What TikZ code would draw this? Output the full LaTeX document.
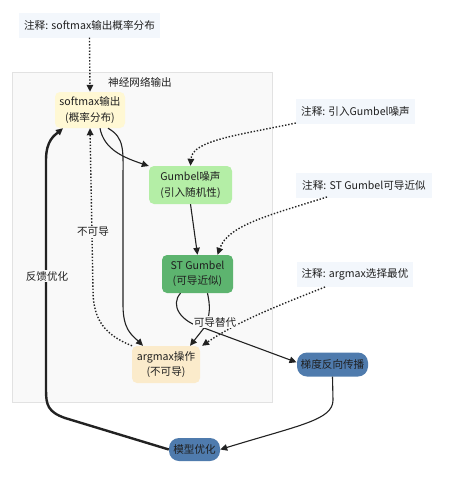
\documentclass[tikz,border=0pt]{standalone}
\usepackage{fontspec}
\setmainfont{Noto Sans CJK SC}
\usetikzlibrary{arrows.meta}
\definecolor{notefill}{HTML}{F3F7FC}
\definecolor{clusterfill}{HTML}{F9F9F9}
\definecolor{clusterdraw}{HTML}{E2E2E2}
\definecolor{yelfill}{HTML}{FFF8D4}
\definecolor{lgreen}{HTML}{B4EEA6}
\definecolor{mgreen}{HTML}{5DB46F}
\definecolor{orfill}{HTML}{FBEBCB}
\definecolor{bluefill}{HTML}{4F7BAD}
\definecolor{edgec}{HTML}{222222}
\tikzset{
  x=1pt, y=-1pt,
  every node/.style={font=\fontsize{10.6pt}{15.5pt}\selectfont, text=black!88, align=center, inner sep=0pt},
  note/.style={fill=notefill, minimum height=25pt},
  box/.style={rounded corners=5pt},
  pill/.style={fill=bluefill, rounded corners=10pt, text=black!88},
  tip/.style={-{Triangle[length=7pt,width=6.5pt]}},
  conn/.style={draw=edgec, line width=1.1pt, tip},
  dotc/.style={draw=edgec, line width=1.4pt, dash pattern=on 1.4pt off 1.8pt, tip},
  lab/.style={fill=clusterfill, inner sep=1pt}
}
\begin{document}
\begin{tikzpicture}
\useasboundingbox (0,0) rectangle (474,488);
\fill[white] (0,0) rectangle (474,488);
% cluster
\draw[fill=clusterfill, draw=clusterdraw, line width=0.8pt] (12,72) rectangle (272,402);
\node (clab) at (140,82) {神经网络输出};
% notes
\node[note, minimum width=141pt] (n1) at (89.5,25) {注释: softmax输出概率分布};
\node[note, minimum width=119pt] (n2) at (355.5,111) {注释: 引入Gumbel噪声};
\node[note, minimum width=136pt] (n3) at (364,185) {注释: ST Gumbel可导近似};
\node[note, minimum width=116pt] (n4) at (355,274) {注释: argmax选择最优};
% nodes
\node[box, fill=yelfill, minimum width=70pt, minimum height=36pt] (sm) at (90,110) {softmax输出\\(概率分布)};
\node[box, fill=lgreen, minimum width=83pt, minimum height=38pt] (gn) at (190.5,185) {Gumbel噪声\\(引入随机性)};
\node[box, fill=mgreen, minimum width=71pt, minimum height=38pt] (st) at (197.5,274) {ST Gumbel\\(可导近似)};
\node[box, fill=orfill, minimum width=68pt, minimum height=37pt] (am) at (166,364.5) {argmax操作\\(不可导)};
\node[pill, minimum width=71pt, minimum height=24pt] (bp) at (332.5,364.5) {梯度反向传播};
\node[pill, minimum width=51pt, minimum height=23pt] (mo) at (194.5,449.5) {模型优化};
% coordinate for merging
\coordinate (mid) at (204,328);
% edges
\draw[dotc] (n1.south) -- (sm.north);
\draw[dotc] (n2.west |- 0,123) .. controls (240,135) and (192,140) .. (gn.north);
\draw[dotc] (327,197) .. controls (270,215) and (228,225) .. ([xshift=20pt]st.north);
\draw[dotc] (325,287) .. controls (280,305) and (240,320) .. ([xshift=36pt]am.north);
\draw[conn] ([xshift=10pt]sm.south) .. controls (104,150) and (125,158) .. (gn.west |- 0,166);
\draw[conn] ([xshift=18pt]sm.south) .. controls (125,138) and (123,150) .. (123,180) -- (123,305) .. controls (123,330) and (132,335) .. ([xshift=-23pt]am.north);
\draw[dotc] ([xshift=-34pt]am.north) .. controls (105,335) and (93,320) .. (93,290) -- (sm.south);
\node[lab] (l1) at (93,232) {不可导};
\draw[conn] (gn.south) -- (st.north);
\draw[edgec, line width=1.1pt] ([xshift=-17pt]st.south) .. controls (170,305) and (180,322) .. (mid);
\draw[edgec, line width=1.1pt] ([xshift=10pt]st.south) .. controls (210,305) and (211,315) .. (mid);
\draw[conn] (mid) -- ([xshift=24pt]am.north);
\draw[conn] (mid) -- ([xshift=-36pt,yshift=-10pt]bp.north);
\node[lab] (l2) at (215,322) {可导替代};
\draw[conn] (bp.south) -- (333,400) .. controls (333,420) and (300,425) .. (mo.east);
\draw[draw=edgec, line width=2.4pt, tip] (mo.west) -- (65,418) .. controls (48,412) and (46,405) .. (46,390) -- (46,160) .. controls (46,140) and (55,135) .. ([xshift=-27pt]sm.south);
\node[lab] (l3) at (47,276) {反馈优化};
\end{tikzpicture}
\end{document}
